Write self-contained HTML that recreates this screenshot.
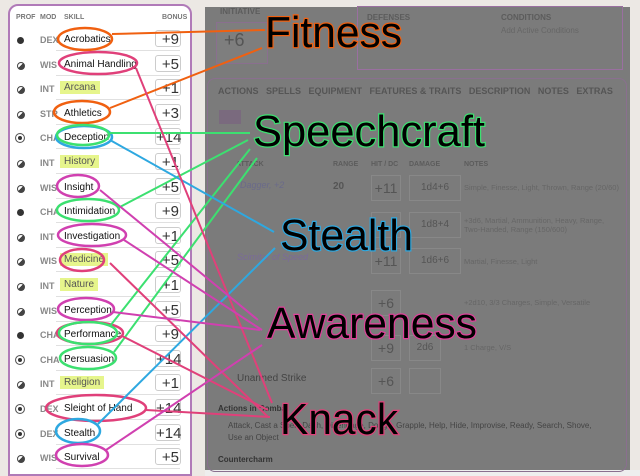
<!DOCTYPE html>
<html><head><meta charset="utf-8"><style>
body{margin:0;width:640px;height:476px;overflow:hidden;background:#ece8e4;font-family:"Liberation Sans",sans-serif;position:relative}
.gray{position:absolute;left:205px;top:7px;width:425px;height:463px;background:#7b7b7b}
.bot{position:absolute;left:205px;top:470px;width:435px;height:6px;background:#eee}
.panel{position:absolute;left:8px;top:4px;width:184px;height:472px;background:#fff;border:2px solid #b07ab8;border-radius:10px 10px 0 0;box-sizing:border-box}
.hdr{position:absolute;top:14px;font-size:7px;color:#777;font-weight:bold}
.row{position:absolute;left:0;width:190px;height:24px;font-size:10px}
.row .d{position:absolute;left:17px;top:8px;width:7px;height:7px;border-radius:50%;background:#333}
.row .m{position:absolute;left:40px;top:6px;color:#888;font-weight:bold;font-size:9px}
.row .s{position:absolute;left:64px;top:5px;color:#111}
.row .s.hl{background:#e6f58c;padding:1px 4px;left:60px;top:3px;color:#555}
.row .b{position:absolute;left:155px;top:1px;width:26px;height:17px;border:1px solid #ccc;border-radius:3px;font-size:15px;text-align:right;padding-right:1px;box-sizing:border-box;line-height:17px;color:#333}
.row .line{position:absolute;left:56px;top:21px;width:124px;border-top:1px solid #e0e0e0}
.t{position:absolute;color:#5c5c5c;font-size:10px;font-weight:bold}
</style></head><body>
<div class="gray"></div><div class="bot"></div>
<div style="position:absolute;left:216px;top:22px;width:50px;height:40px;border:1px solid #8a6f8f;background:#7e7e7e"></div>
<div class="t" style="left:220px;top:7px;font-size:8px">INITIATIVE</div>
<div style="position:absolute;left:224px;top:30px;font-size:18px;color:#555">+6</div>
<div style="position:absolute;left:357px;top:6px;width:264px;height:62px;border:1px solid #9a6fa0"></div>
<div class="t" style="left:367px;top:13px;font-size:8px">DEFENSES</div>
<div class="t" style="left:501px;top:13px;font-size:8px">CONDITIONS</div>
<div style="position:absolute;left:501px;top:26px;font-size:8px;color:#666">Add Active Conditions</div>
<div style="position:absolute;left:207px;top:78px;width:418px;height:392px;border:1px solid #8a6f8f;border-radius:8px"></div>
<div class="t" style="left:218px;top:86px;font-size:9px;color:#555">ACTIONS&nbsp;&nbsp; SPELLS&nbsp;&nbsp; EQUIPMENT&nbsp;&nbsp; FEATURES &amp; TRAITS&nbsp;&nbsp; DESCRIPTION&nbsp;&nbsp; NOTES&nbsp;&nbsp; EXTRAS</div>
<div style="position:absolute;left:219px;top:110px;width:22px;height:14px;background:#7a6a7e"></div>
<div class="t" style="left:236px;top:161px;font-size:7px">ATTACK</div>
<div class="t" style="left:333px;top:161px;font-size:7px">RANGE</div>
<div class="t" style="left:371px;top:161px;font-size:7px">HIT / DC</div>
<div class="t" style="left:409px;top:161px;font-size:7px">DAMAGE</div>
<div class="t" style="left:464px;top:161px;font-size:7px">NOTES</div>
<div style="position:absolute;left:240px;top:180px;font-size:9px;color:#6a6a8a;font-style:italic">Dagger, +2</div>
<div style="position:absolute;left:333px;top:181px;font-size:10px;color:#555;font-weight:bold">20</div>
<div style="position:absolute;left:371px;top:175px;width:28px;height:24px;border:1px solid #888;color:#555;font-size:14px;text-align:center;line-height:24px">+11</div>
<div style="position:absolute;left:409px;top:175px;width:50px;height:24px;border:1px solid #888;color:#555;font-size:10px;text-align:center;line-height:24px">1d4+6</div>
<div style="position:absolute;left:464px;top:183px;font-size:7.5px;color:#666">Simple, Finesse, Light, Thrown, Range (20/60)</div>
<div style="position:absolute;left:371px;top:212px;width:28px;height:24px;border:1px solid #888"></div>
<div style="position:absolute;left:409px;top:212px;width:50px;height:24px;border:1px solid #888;color:#555;font-size:10px;text-align:center;line-height:24px">1d8+4</div>
<div style="position:absolute;left:464px;top:216px;font-size:7.5px;color:#666">+3d6, Martial, Ammunition, Heavy, Range,<br>Two-Handed, Range (150/600)</div>
<div style="position:absolute;left:237px;top:252px;font-size:9px;color:#7a6a9a;font-style:italic">Scimitar of Speed</div>
<div style="position:absolute;left:371px;top:248px;width:28px;height:24px;border:1px solid #888;color:#555;font-size:14px;text-align:center;line-height:24px">+11</div>
<div style="position:absolute;left:409px;top:248px;width:50px;height:24px;border:1px solid #888;color:#555;font-size:10px;text-align:center;line-height:24px">1d6+6</div>
<div style="position:absolute;left:464px;top:257px;font-size:7.5px;color:#666">Martial, Finesse, Light</div>
<div style="position:absolute;left:371px;top:290px;width:28px;height:24px;border:1px solid #888;color:#555;font-size:14px;text-align:center;line-height:24px">+6</div>
<div style="position:absolute;left:464px;top:298px;font-size:7.5px;color:#666">+2d10, 3/3 Charges, Simple, Versatile</div>
<div style="position:absolute;left:371px;top:335px;width:28px;height:24px;border:1px solid #888;color:#555;font-size:14px;text-align:center;line-height:24px">+9</div>
<div style="position:absolute;left:409px;top:335px;width:30px;height:24px;border:1px solid #888;color:#555;font-size:10px;text-align:center;line-height:24px">2d6</div>
<div style="position:absolute;left:464px;top:343px;font-size:7.5px;color:#666">1 Charge, V/S</div>
<div style="position:absolute;left:237px;top:373px;font-size:10px;color:#444">Unarmed Strike</div>
<div style="position:absolute;left:371px;top:368px;width:28px;height:24px;border:1px solid #888;color:#555;font-size:14px;text-align:center;line-height:24px">+6</div>
<div style="position:absolute;left:409px;top:368px;width:30px;height:24px;border:1px solid #888"></div>
<div class="t" style="left:218px;top:404px;font-size:8px;color:#333">Actions in Combat</div>
<div style="position:absolute;left:228px;top:420px;font-size:8px;color:#444;line-height:12px">Attack, Cast a Spell, Dash, Disengage, Dodge, Grapple, Help, Hide, Improvise, Ready, Search, Shove,<br>Use an Object</div>
<div class="t" style="left:218px;top:455px;font-size:8px;color:#333">Countercharm</div>

<div class="panel"></div>
<div class="hdr" style="left:16px">PROF</div><div class="hdr" style="left:40px">MOD</div><div class="hdr" style="left:64px">SKILL</div><div class="hdr" style="left:162px">BONUS</div>
<div id="rows"></div>
<script>
var R=[["f","DEX","Acrobatics","+9"],["h","WIS","Animal Handling","+5"],["h","INT","Arcana","+1",1],["h","STR","Athletics","+3"],["e","CHA","Deception","+14"],["h","INT","History","+1",1],["h","WIS","Insight","+5"],["f","CHA","Intimidation","+9"],["h","INT","Investigation","+1"],["h","WIS","Medicine","+5",1],["h","INT","Nature","+1",1],["h","WIS","Perception","+5"],["f","CHA","Performance","+9"],["e","CHA","Persuasion","+14"],["h","INT","Religion","+1",1],["e","DEX","Sleight of Hand","+14"],["e","DEX","Stealth","+14"],["h","WIS","Survival","+5"]];
var h="";R.forEach(function(r,i){var y=29+i*24.6;var dot=r[0]=="f"?'<div class="d"></div>':r[0]=="e"?'<div class="d" style="background:#fff;border:1.5px solid #555;width:8px;height:8px;left:15px;top:6px;box-shadow:inset 0 0 0 2px #fff,inset 0 0 0 5px #333"></div>':'<div class="d" style="background:linear-gradient(135deg,#fff 45%,#444 45%);border:1px solid #444;width:6px;height:6px"></div>';
h+='<div class="row" style="top:'+y+'px">'+dot+'<div class="m">'+r[1]+'</div><div class="s'+(r[4]?' hl':'')+'">'+r[2]+'</div><div class="b">'+r[3]+'</div><div class="line"></div></div>';});
document.getElementById("rows").innerHTML=h;
</script>
<svg width="640" height="476" style="position:absolute;left:0;top:0" fill="none">
<g stroke-width="2.5">
<ellipse cx="85" cy="39" rx="27" ry="11" stroke="#f06010"/>
<ellipse cx="98" cy="63" rx="39" ry="11" stroke="#e0407a"/>
<ellipse cx="82" cy="112" rx="28" ry="11" stroke="#f06010"/>
<ellipse cx="84" cy="137" rx="28" ry="11" stroke="#2ea8e0"/>
<ellipse cx="83" cy="135" rx="26" ry="10" stroke="#3ce070"/>
<ellipse cx="78" cy="186" rx="21" ry="11" stroke="#d040b0"/>
<ellipse cx="88" cy="210" rx="31" ry="11" stroke="#3ce070"/>
<ellipse cx="92" cy="235" rx="34" ry="11" stroke="#d040b0"/>
<ellipse cx="82" cy="260" rx="22" ry="11" stroke="#e0407a"/>
<ellipse cx="86" cy="309" rx="28" ry="11" stroke="#d040b0"/>
<ellipse cx="90" cy="333" rx="33" ry="11" stroke="#e0407a"/>
<ellipse cx="88" cy="333" rx="29" ry="11" stroke="#3ce070"/>
<ellipse cx="88" cy="358" rx="28" ry="11" stroke="#3ce070"/>
<ellipse cx="96" cy="408" rx="50" ry="13" stroke="#e0407a"/>
<ellipse cx="78" cy="431" rx="22" ry="12" stroke="#2ea8e0"/>
<ellipse cx="82" cy="455" rx="26" ry="11" stroke="#d040b0"/>
</g>
<g stroke-width="2">
<line x1="112" y1="34" x2="265" y2="30" stroke="#f06010"/>
<line x1="110" y1="108" x2="262" y2="48" stroke="#f06010"/>
<line x1="110" y1="133" x2="250" y2="133" stroke="#3ce070"/>
<line x1="118" y1="208" x2="248" y2="140" stroke="#3ce070"/>
<line x1="110" y1="326" x2="250" y2="149" stroke="#3ce070"/>
<line x1="114" y1="352" x2="257" y2="158" stroke="#3ce070"/>
<line x1="110" y1="140" x2="274" y2="232" stroke="#2ea8e0"/>
<line x1="98" y1="424" x2="275" y2="248" stroke="#2ea8e0"/>
<line x1="136" y1="68" x2="272" y2="403" stroke="#e0407a"/>
<line x1="100" y1="190" x2="258" y2="320" stroke="#d040b0"/>
<line x1="124" y1="240" x2="262" y2="330" stroke="#d040b0"/>
<line x1="110" y1="263" x2="268" y2="417" stroke="#e0407a"/>
<line x1="113" y1="312" x2="260" y2="330" stroke="#d040b0"/>
<line x1="122" y1="336" x2="268" y2="410" stroke="#e0407a"/>
<line x1="146" y1="410" x2="270" y2="417" stroke="#e0407a"/>
<line x1="106" y1="450" x2="262" y2="345" stroke="#d040b0"/>
</g>
<g font-family="Liberation Sans, sans-serif" font-size="44" fill="#000" stroke-width="2.4" paint-order="stroke">
<text x="265" y="47" stroke="#f06010" textLength="137" lengthAdjust="spacingAndGlyphs">Fitness</text>
<text x="253" y="146" stroke="#3ce070" textLength="232" lengthAdjust="spacingAndGlyphs">Speechcraft</text>
<text x="280" y="250" stroke="#2ea8e0" textLength="133" lengthAdjust="spacingAndGlyphs">Stealth</text>
<text x="267" y="338" stroke="#e0409a" textLength="210" lengthAdjust="spacingAndGlyphs">Awareness</text>
<text x="280" y="434" stroke="#e0407a" textLength="118" lengthAdjust="spacingAndGlyphs">Knack</text>
</g>
</svg>
</body></html>
